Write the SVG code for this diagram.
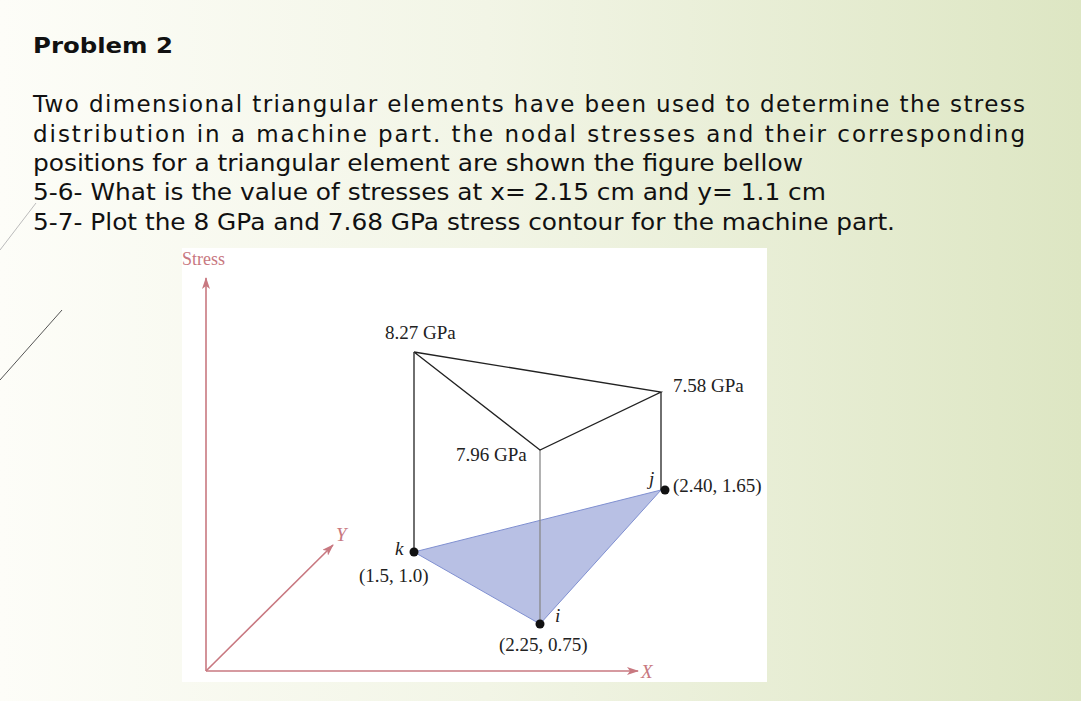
<svg xmlns="http://www.w3.org/2000/svg" width="1081" height="701" viewBox="0 0 1081 701">
<defs>
<linearGradient id="bg" x1="0" y1="0" x2="1" y2="0">
<stop offset="0" stop-color="#fdfdf8"/><stop offset="0.45" stop-color="#f2f5e6"/><stop offset="1" stop-color="#dde6c3"/>
</linearGradient>
<marker id="ar" markerWidth="12" markerHeight="8" refX="11" refY="4" orient="auto" markerUnits="userSpaceOnUse"><path d="M0,0 L12,4 L0,8 L3,4 Z" fill="#c87880"/></marker>
<style>
.t{font-family:"DejaVu Sans",sans-serif;font-size:23px;fill:#111}
.s{font-family:"Liberation Serif",serif;font-size:19px;fill:#222}
.ax{stroke:#c87880;stroke-width:1.6;fill:none}
.ln{stroke:#222;stroke-width:1.3;fill:none}
</style>
</defs>
<rect width="1081" height="701" fill="url(#bg)"/>
<line x1="0" y1="380" x2="62" y2="310" stroke="#555" stroke-width="1"/>
<line x1="0" y1="250" x2="36" y2="203" stroke="#bbb" stroke-width="1"/>
<text x="33" y="53" textLength="140" lengthAdjust="spacingAndGlyphs" style="font-family:'DejaVu Sans',sans-serif;font-weight:bold;font-size:22px;fill:#111">Problem 2</text>
<text class="t" x="33" y="112" textLength="992" lengthAdjust="spacing">Two dimensional triangular elements have been used to determine the stress</text>
<text class="t" x="33" y="142" textLength="992" lengthAdjust="spacing">distribution in a machine part. the nodal stresses and their corresponding</text>
<text class="t" x="33" y="171" textLength="770" lengthAdjust="spacingAndGlyphs">positions for a triangular element are shown the figure bellow</text>
<text class="t" x="33" y="200" textLength="793" lengthAdjust="spacingAndGlyphs">5-6- What is the value of stresses at x= 2.15 cm and y= 1.1 cm</text>
<text class="t" x="33" y="230" textLength="862" lengthAdjust="spacingAndGlyphs">5-7- Plot the 8 GPa and 7.68 GPa stress contour for the machine part.</text>
<rect x="182" y="248" width="585" height="434" fill="#fff"/>
<g id="axes">
<text x="182" y="265" style="font-family:'Liberation Serif',serif;font-size:18px;fill:#c87880">Stress</text>
<line class="ax" x1="206" y1="671" x2="206" y2="278" marker-end="url(#ar)"/>
<line class="ax" x1="206" y1="671" x2="638" y2="671" marker-end="url(#ar)"/>
<line class="ax" x1="206" y1="671" x2="333" y2="545" marker-end="url(#ar)"/>
<text x="641" y="678" style="font-family:'Liberation Serif',serif;font-style:italic;font-size:19px;fill:#c87880">X</text>
<text x="336" y="541" style="font-family:'Liberation Serif',serif;font-style:italic;font-size:19px;fill:#c87880">Y</text>
</g>
<g id="element">
<polygon points="414,552 540,624 661,490" fill="#b8c0e4" stroke="#7f8fd0" stroke-width="1"/>
</g>
<g id="connectors">
<line class="ln" x1="414" y1="352" x2="414" y2="552"/>
<line class="ln" x1="661" y1="392" x2="661" y2="490"/>
<line x1="540" y1="450" x2="540" y2="624" stroke="#888" stroke-width="1.3"/>
<polyline class="ln" points="414,352 661,392 540,450 414,352"/>
</g>
<g id="node-k"><circle cx="414" cy="552" r="4.5" fill="#111"/><text class="s" x="395" y="555" font-style="italic">k</text><text class="s" x="359" y="582">(1.5, 1.0)</text><text class="s" x="385" y="339">8.27 GPa</text></g>
<g id="node-i"><circle cx="540" cy="624" r="4.5" fill="#111"/><text class="s" x="555" y="622" font-style="italic">i</text><text class="s" x="499" y="651">(2.25, 0.75)</text><text class="s" x="456" y="461">7.96 GPa</text></g>
<g id="node-j"><circle cx="665" cy="490" r="4.5" fill="#111"/><text class="s" x="649" y="485" font-style="italic">j</text><text class="s" x="673" y="492">(2.40, 1.65)</text><text class="s" x="673" y="392">7.58 GPa</text></g>
</svg>
